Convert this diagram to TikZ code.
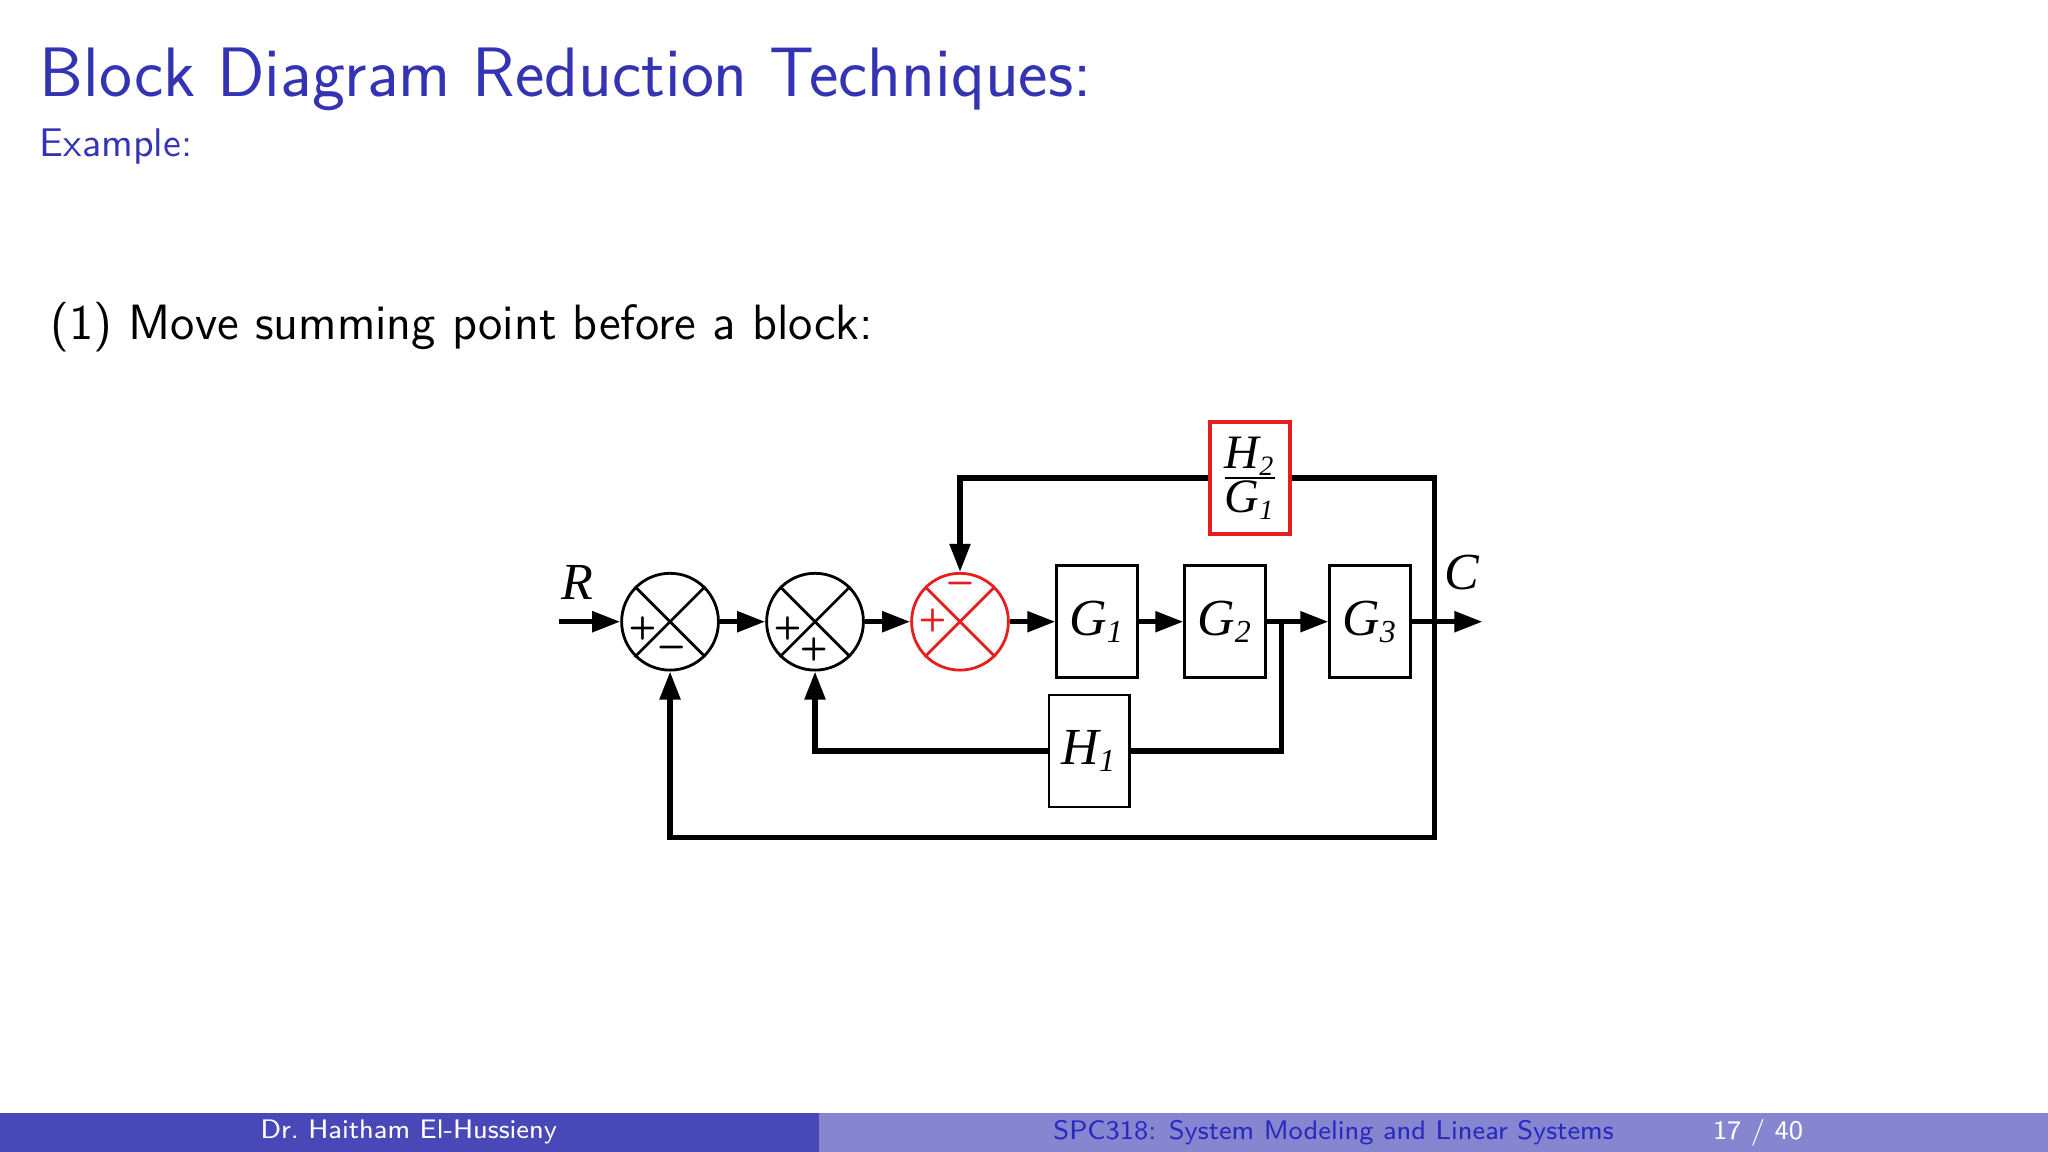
\documentclass[tikz,border=0pt]{standalone}
\usepackage{fontspec}
\setmainfont{Latin Modern Sans}
\newfontfamily\tnr{Liberation Serif}
\usetikzlibrary{arrows.meta}
\definecolor{beamblue}{RGB}{51,51,179}
\definecolor{footdark}{RGB}{72,72,184}
\definecolor{footlight}{RGB}{133,133,208}
\definecolor{redc}{RGB}{230,30,30}
\begin{document}
\begin{tikzpicture}[x=0.3265pt,y=-0.3265pt,
  sig/.style={line width=1.3pt},
  arr/.style={sig,-{Triangle[length=7pt,width=5pt]}},
  blk/.style={draw,line width=0.7pt,minimum width=20.2pt,minimum height=28pt,inner sep=0pt,font=\tnr\itshape\fontsize{13}{13}\selectfont},
  sum/.style={draw,circle,line width=0.7pt,minimum size=24.2pt,inner sep=0pt},
  sgn/.style={font=\bfseries\fontsize{8}{8}\selectfont,inner sep=0pt}]
\useasboundingbox (0,0) rectangle (1568,882);
% texts
\node[anchor=base west,text=beamblue,font=\fontsize{17.5}{18}\selectfont,inner sep=0] (title) at (30,74) {Block Diagram Reduction Techniques:};
\node[anchor=base west,text=beamblue,font=\fontsize{10}{11}\selectfont,inner sep=0] (ex) at (30,120) {Example:};
\node[anchor=base west,font=\fontsize{12.4}{13}\selectfont,inner sep=0] (step) at (38,260) {(1) Move summing point before a block:};
% footer
\fill[footdark] (0,852) rectangle (627,882);
\fill[footlight] (627,852) rectangle (1568,882);
\node[text=white,font=\fontsize{6.7}{7}\selectfont,inner sep=0] (auth) at (313,867) {Dr.\ Haitham El-Hussieny};
\node[text=beamblue!80!blue,font=\fontsize{6.7}{7}\selectfont,inner sep=0] (course) at (1021,867) {SPC318: System Modeling and Linear Systems};
\node[text=white,font=\fontsize{6.7}{7}\selectfont,inner sep=0] (page) at (1346,867) {17 / 40};
% diagram
\coordinate (in) at (428,476);
\node[sum] (s1) at (513,476) {};
\node[sum] (s2) at (624,476) {};
\node[sum,draw=redc] (s3) at (735,476) {};
\foreach \s/\c in {s1/black,s2/black,s3/redc}{
  \draw[\c,line width=0.7pt] (\s.north west) -- (\s.south east) (\s.north east) -- (\s.south west);}
\node[sgn] (p1) at (492,481) {+};
\node[sgn] (m1) at (514,498) {\textminus};
\node[sgn] (p2) at (603,481) {+};
\node[sgn] (p2b) at (623,497) {+};
\node[sgn,text=redc] (p3) at (714,475) {+};
\node[sgn,text=redc] (m3) at (735,449) {\textminus};
\node[blk] (g1) at (840,476) {G\textsubscript{\fontsize{8}{8}\selectfont 1}};
\node[blk] (g2) at (938,476) {G\textsubscript{\fontsize{8}{8}\selectfont 2}};
\node[blk] (g3) at (1049,476) {G\textsubscript{\fontsize{8}{8}\selectfont 3}};
\node[blk] (h1) at (834,575) {H\textsubscript{\fontsize{8}{8}\selectfont 1}};
\node[blk,draw=redc,line width=1pt,font=\tnr\itshape\fontsize{12}{12}\selectfont] (h2) at (957,366) {$\frac{\mbox{H\textsubscript{\fontsize{7}{7}\selectfont 2}}}{\mbox{G\textsubscript{\fontsize{7}{7}\selectfont 1}}}$};
\coordinate (br) at (981,476);
\coordinate (co) at (1098,476);
\coordinate (out) at (1135,476);
\node[font=\tnr\itshape\fontsize{13}{13}\selectfont] (R) at (442,446) {R};
\node[font=\tnr\itshape\fontsize{13}{13}\selectfont] (C) at (1119,438) {C};
\draw[arr] (in) -- (s1);
\draw[arr] (s1) -- (s2);
\draw[arr] (s2) -- (s3);
\draw[arr] (s3) -- (g1);
\draw[arr] (g1) -- (g2);
\draw[arr] (g2) -- (g3);
\draw[arr] (g3) -- (out);
\draw[sig] (br) |- (h1.east);
\draw[arr] (h1.west) -| (s2.south);
\draw[arr] (co) -- (1098,641) -| (s1.south);
\draw[sig] (co) |- (h2.east);
\draw[arr] (h2.west) -| (s3.north);
\end{tikzpicture}
\end{document}
